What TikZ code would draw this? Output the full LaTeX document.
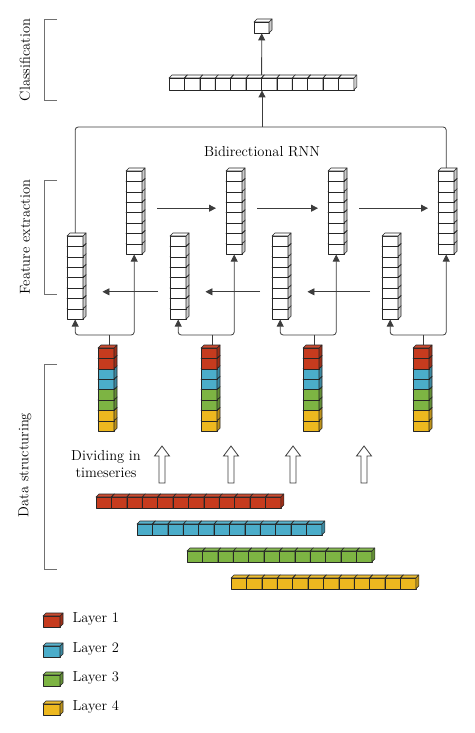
\documentclass[tikz,border=0pt]{standalone}
\usepackage{tikz}
\usetikzlibrary{arrows.meta}
\definecolor{cRed}{HTML}{C63B1E}
\definecolor{cBlue}{HTML}{4BADCA}
\definecolor{cGreen}{HTML}{7DB443}
\definecolor{cYellow}{HTML}{EDB81F}
\definecolor{cLine}{HTML}{3C3C3C}
\definecolor{cBracket}{HTML}{707070}
\pgfdeclarelayer{bg}
\pgfsetlayers{bg,main}

% one 3D cell: left, top, width, height, colour
\newcommand{\cube}[5]{%
  \filldraw[cellline, fill=#5] (#1,#2) rectangle ++(#3,#4);
  \filldraw[cellline, fill=#5!80!black] (#1+#3,#2) -- ++(3,-3) -- ++(0,#4) -- ++(-3,3) -- cycle;
  \filldraw[cellline, fill=#5!92!white] (#1,#2) -- ++(3,-3) -- ++(#3,0) -- ++(-3,3) -- cycle;}
% column of 8 cells: name, left, top, colours from the bottom up
\newcommand{\vstack}[4]{%
  \node[stackbox, anchor=north west] (#1) at (#2,#3) {};
  \foreach \col [count=\k] in {#4} {%
    \pgfmathsetmacro\yy{#3+(8-\k)*10.4}
    \cube{#2}{\yy}{16}{10.4}{\col}}}
% row of 12 cells: name, left, top, cell width, cell height, colour
\newcommand{\hrow}[6]{%
  \node[inner sep=0pt, anchor=north west, minimum width=12*#4pt, minimum height=#5pt] (#1) at (#2,#3) {};
  \foreach \k in {0,...,11} {%
    \pgfmathsetmacro\xx{#2+\k*#4}
    \cube{\xx}{#3}{#4}{#5}{#6}}}
% hollow up arrow: tip x
\newcommand{\uparr}[1]{%
  \draw[hollow] (#1,446) -- ++(7.5,10) -- ++(-4.5,0) -- ++(0,27) -- ++(-6,0)
    -- ++(0,-27) -- ++(-4.5,0) -- cycle;}

\begin{document}
\begin{tikzpicture}[x=1pt, y=-1pt, font=\fontsize{14.5}{17}\selectfont,
    cellline/.style={draw=black!85, line width=0.6pt, line join=round},
    stackbox/.style={inner sep=0pt, minimum width=16pt, minimum height=83.2pt},
    conn/.style={draw=cLine, line width=0.8pt},
    arr/.style={conn, -{Triangle[length=7pt,width=7pt]}},
    bracket/.style={draw=cBracket, line width=1pt},
    hollow/.style={draw=cLine, fill=white, line width=0.8pt, line join=miter}]
  \useasboundingbox (0,0) rectangle (474,733);

  % side labels
  \draw[bracket] (57,20) -| (44,101) -- (57,101);
  \draw[bracket] (57,180) -| (44,294) -- (57,294);
  \draw[bracket] (57,364) -| (44,569) -- (57,569);
  \node[rotate=90] (lclass) at (25,60) {Classification};
  \node[rotate=90] (lfeat) at (25,237) {Feature extraction};
  \node[rotate=90] (ldata) at (25,465) {Data structuring};

  % classification
  \node[inner sep=0pt, minimum width=15pt, minimum height=11pt, anchor=north west] (out) at (254,22) {};
  \cube{254}{22}{15}{11}{white}
  \hrow{cls}{169}{78}{15.4}{12}{white}

  % bidirectional RNN
  \node (birnn) at (262,152) {Bidirectional RNN};
  \vstack{f1}{126}{171}{white,white,white,white,white,white,white,white}
  \vstack{f2}{226}{171}{white,white,white,white,white,white,white,white}
  \vstack{f3}{328}{171}{white,white,white,white,white,white,white,white}
  \vstack{f4}{438}{171}{white,white,white,white,white,white,white,white}
  \vstack{b1}{67}{236}{white,white,white,white,white,white,white,white}
  \vstack{b2}{170}{236}{white,white,white,white,white,white,white,white}
  \vstack{b3}{272}{236}{white,white,white,white,white,white,white,white}
  \vstack{b4}{382}{236}{white,white,white,white,white,white,white,white}

  % time steps
  \vstack{c1}{98}{348}{cYellow,cYellow,cGreen,cGreen,cBlue,cBlue,cRed,cRed}
  \vstack{c2}{201}{348}{cYellow,cYellow,cGreen,cGreen,cBlue,cBlue,cRed,cRed}
  \vstack{c3}{303}{348}{cYellow,cYellow,cGreen,cGreen,cBlue,cBlue,cRed,cRed}
  \vstack{c4}{413}{348}{cYellow,cYellow,cGreen,cGreen,cBlue,cBlue,cRed,cRed}

  \node[align=center] (divide) at (106,464) {Dividing in\\timeseries};
  \uparr{162}
  \uparr{231}
  \uparr{293}
  \uparr{364}

  % input layers
  \hrow{row1}{96}{497}{15.4}{11}{cRed}
  \hrow{row2}{137}{524}{15.4}{11}{cBlue}
  \hrow{row3}{187}{551}{15.4}{11}{cGreen}
  \hrow{row4}{231}{578}{15.4}{11}{cYellow}

  % legend
  \cube{43}{616}{17}{11}{cRed}
  \cube{43}{646}{17}{11}{cBlue}
  \cube{43}{675}{17}{11}{cGreen}
  \cube{43}{704}{17}{11}{cYellow}
  \node[anchor=west] (leg1) at (69,619) {Layer 1};
  \node[anchor=west] (leg2) at (69,649) {Layer 2};
  \node[anchor=west] (leg3) at (69,678) {Layer 3};
  \node[anchor=west] (leg4) at (69,707) {Layer 4};

  \begin{pgfonlayer}{bg}
    \coordinate (top) at (262,127);
    \draw[conn, rounded corners=3pt] (b1.north) |- (top) -| (f4.north);
    \draw[arr] (top) -- (top |- cls.south);
    \draw[arr] (cls.north) -- (out.south);
    % forward direction
    \draw[arr] ([xshift=15pt,yshift=4.6pt]f1.east) -- ([xshift=-10pt,yshift=4.6pt]f2.west);
    \draw[arr] ([xshift=15pt,yshift=4.6pt]f2.east) -- ([xshift=-10pt,yshift=4.6pt]f3.west);
    \draw[arr] ([xshift=15pt,yshift=4.6pt]f3.east) -- ([xshift=-10pt,yshift=4.6pt]f4.west);
    % backward direction
    \draw[arr] ([xshift=-12pt,yshift=-14pt]b2.west) -- ([xshift=19pt,yshift=-14pt]b1.east);
    \draw[arr] ([xshift=-12pt,yshift=-14pt]b3.west) -- ([xshift=19pt,yshift=-14pt]b2.east);
    \draw[arr] ([xshift=-12pt,yshift=-14pt]b4.west) -- ([xshift=19pt,yshift=-14pt]b3.east);
    % inputs to both directions
    \coordinate (j1) at (109,335);
    \coordinate (j2) at (212,335);
    \coordinate (j3) at (314,335);
    \coordinate (j4) at (423,335);
    \foreach \n in {1,...,4} {
      \draw[conn] (j\n) -- (j\n |- c\n.north);
      \draw[arr, rounded corners=3pt] (j\n) -| (b\n.south);
      \draw[arr, rounded corners=3pt] (j\n) -| (f\n.south);
    }
  \end{pgfonlayer}
\end{tikzpicture}
\end{document}
